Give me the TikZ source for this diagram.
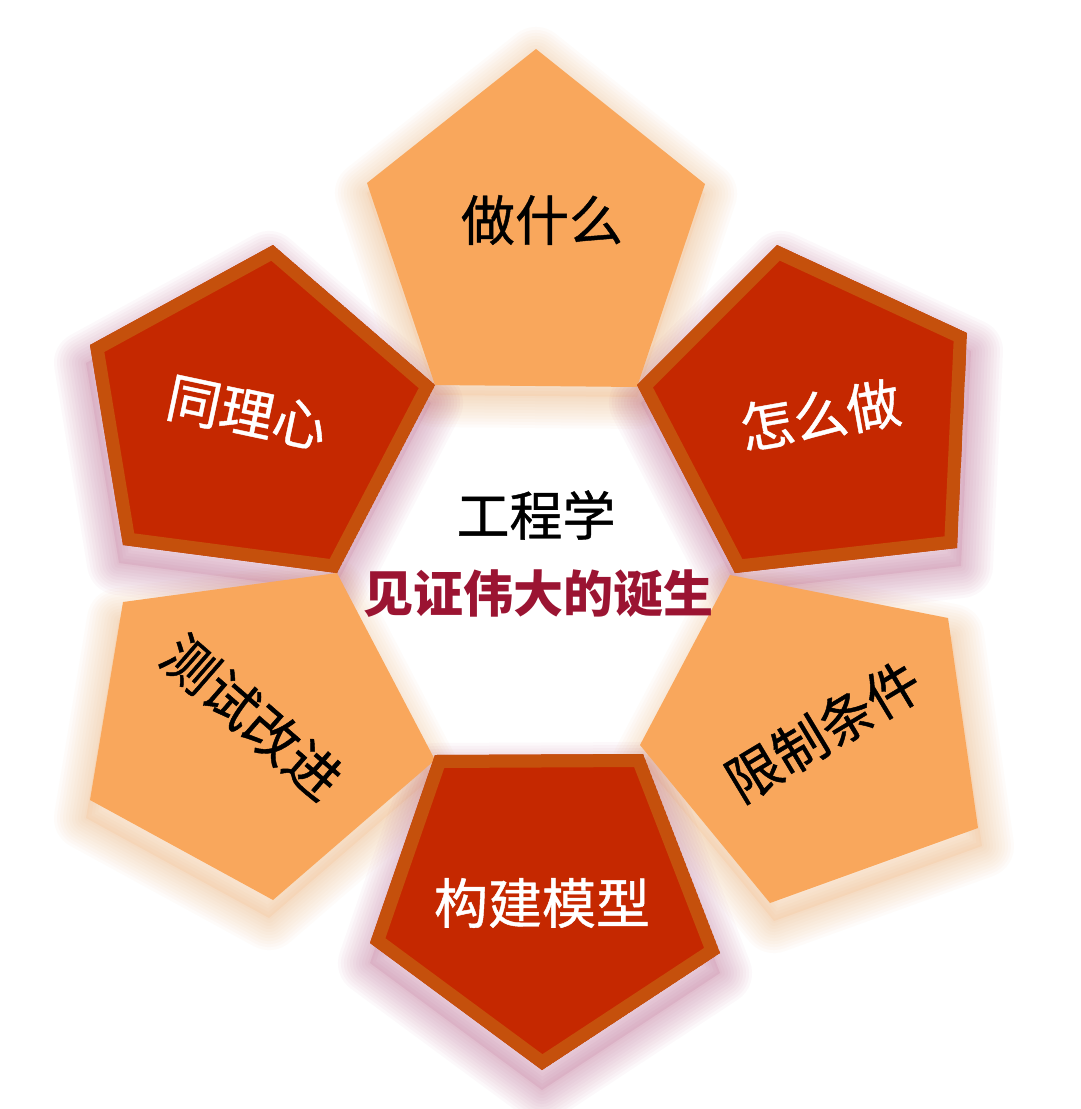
\documentclass[tikz,border=0pt]{standalone}
\usepackage{fontspec}
\newfontfamily\cjk{Noto Sans CJK SC}
\newfontfamily\cjkm{Noto Sans CJK SC}[FakeBold=0.8]
\definecolor{lightor}{HTML}{F9A75C}
\definecolor{darkred}{HTML}{C52800}
\definecolor{borderor}{HTML}{C5500C}
\definecolor{titlered}{HTML}{9B1432}
\definecolor{glowpurple}{HTML}{A8386E}
\definecolor{gloworange}{HTML}{F59A48}
\newcommand\pent[1]{(#1-1) -- (#1-2) -- (#1-3) -- (#1-4) -- (#1-5) -- cycle}
\newcommand\glowpent[4]{%
  \begin{scope}[transform canvas={shift={(#3pt,#4pt)}}]
    \foreach \w in {64,58,52,46,40,34,28,22,16,10,4} {\draw[#2, line width=\w pt, line join=round, opacity=0.032] \pent{#1};}
    \fill[#2, opacity=0.1] \pent{#1};
  \end{scope}}
\newcommand\lightpent[1]{\fill[lightor] \pent{#1};}
\newcommand\darkpent[1]{%
  \begin{scope}
    \clip \pent{#1};
    \fill[darkred] \pent{#1};
    \draw[borderor, line width=26pt, line join=miter] \pent{#1};
  \end{scope}}
\begin{document}
\begin{tikzpicture}[x=1pt,y=-1pt,
  lbl/.style={font=\cjkm\fontsize{54}{60}\selectfont, inner sep=0pt},
  titlea/.style={font=\cjkm\fontsize{53}{58}\selectfont, inner sep=0pt, text=black},
  titleb/.style={font=\cjk\bfseries\fontsize{50}{56}\selectfont, inner sep=0pt, text=titlered}]
\useasboundingbox[fill=white] (0,0) rectangle (1080,1109);
% top pentagon A
\coordinate (A-1) at (536,49);
\coordinate (A-2) at (705,184);
\coordinate (A-3) at (637,387);
\coordinate (A-4) at (435,385);
\coordinate (A-5) at (367,183);
% upper right B
\coordinate (B-1) at (777,245);
\coordinate (B-2) at (967,333);
\coordinate (B-3) at (957,548);
\coordinate (B-4) at (735,573);
\coordinate (B-5) at (637,385);
% lower right C
\coordinate (C-1) at (730,575);
\coordinate (C-2) at (948,618);
\coordinate (C-3) at (978,828);
\coordinate (C-4) at (770,903);
\coordinate (C-5) at (640,745);
% bottom D
\coordinate (D-1) at (435,755);
\coordinate (D-2) at (643,754);
\coordinate (D-3) at (720,953);
\coordinate (D-4) at (542,1070);
\coordinate (D-5) at (370,943);
% lower left E
\coordinate (E-1) at (123,602);
\coordinate (E-2) at (337,573);
\coordinate (E-3) at (435,760);
\coordinate (E-4) at (273,900);
\coordinate (E-5) at (90,800);
% upper left F
\coordinate (F-1) at (273,245);
\coordinate (F-2) at (435,385);
\coordinate (F-3) at (337,573);
\coordinate (F-4) at (123,545);
\coordinate (F-5) at (90,345);
% glows
\glowpent{A}{gloworange}{0}{-10}
\glowpent{C}{gloworange}{4}{-18}
\glowpent{E}{gloworange}{-4}{-18}
\glowpent{B}{glowpurple}{4}{-18}
\glowpent{D}{glowpurple}{0}{-20}
\glowpent{F}{glowpurple}{-4}{-18}
% pentagons
\lightpent{A}
\lightpent{C}
\lightpent{E}
\darkpent{B}
\darkpent{D}
\darkpent{F}
% labels
\node[lbl, text=black] (tA) at (542,220) {做什么};
\node[lbl, text=white, rotate=10] (tB) at (820,415) {怎么做};
\node[lbl, text=black, rotate=31] (tC) at (823,731) {限制条件};
\node[lbl, text=white] (tD) at (542,903) {构建模型};
\node[lbl, text=black, rotate=-41] (tE) at (252,717) {测试改进};
\node[lbl, text=white, rotate=-12] (tF) at (247,413) {同理心};
\node[titlea] (t1) at (536,515) {工程学};
\node[titleb] (t2) at (538,594) {见证伟大的诞生};
\end{tikzpicture}
\end{document}
